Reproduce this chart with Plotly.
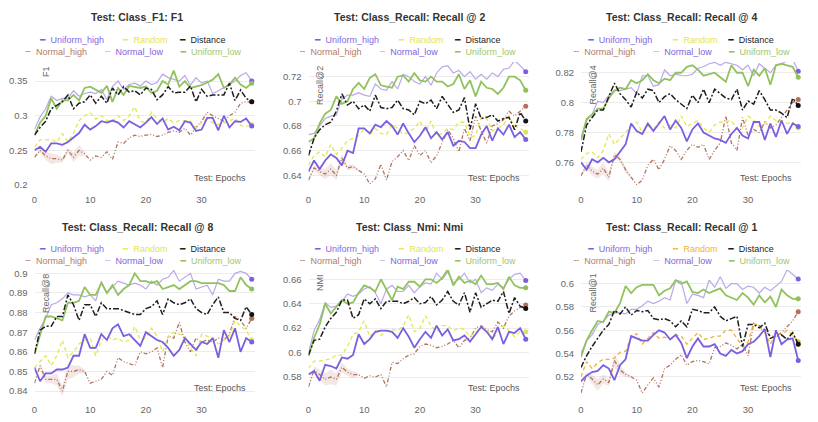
import plotly.graph_objects as go

epochs = list(range(40))

panel_titles = [
    "Test: Class_F1: F1",
    "Test: Class_Recall: Recall @ 2",
    "Test: Class_Recall: Recall @ 4",
    "Test: Class_Recall: Recall @ 8",
    "Test: Class_Nmi: Nmi",
    "Test: Class_Recall: Recall @ 1",
]
y_titles = ["F1", "Recall@2", "Recall@4", "Recall@8", "NMI", "Recall@1"]
y_ranges = [[0.2, 0.3775], [0.6321, 0.7319], [0.7448, 0.8272],
            [0.838, 0.9017], [0.5653, 0.6676], [0.5043, 0.6118]]
y_tick0 = [0.2, 0.64, 0.76, 0.84, 0.58, 0.52]
y_dtick = [0.05, 0.02, 0.02, 0.01, 0.02, 0.02]
x_ticks = [0, 10, 20, 30]
x_title = "Test: Epochs"

series_names = ["Uniform_high", "Random", "Distance", "Normal_high", "Normal_low", "Uniform_low"]

# ---- F1 ----
f1_uniform_high = [0.25, 0.255, 0.248, 0.26, 0.26, 0.258, 0.262, 0.268, 0.275, 0.287, 0.28, 0.285, 0.292, 0.29, 0.293, 0.29, 0.283, 0.292, 0.287, 0.283,
                   0.29, 0.298, 0.288, 0.296, 0.28, 0.284, 0.279, 0.292, 0.29, 0.278, 0.28, 0.297, 0.297, 0.279, 0.3, 0.283, 0.292, 0.291, 0.296, 0.285]
f1_random = [0.255, 0.265, 0.265, 0.266, 0.262, 0.274, 0.262, 0.275, 0.293, 0.3, 0.304, 0.295, 0.3, 0.293, 0.292, 0.3, 0.293, 0.3, 0.313, 0.292,
             0.29, 0.305, 0.296, 0.29, 0.296, 0.29, 0.293, 0.292, 0.292, 0.282, 0.29, 0.295, 0.29, 0.287, 0.29, 0.292, 0.297, 0.286, 0.285, 0.287]
f1_distance = [0.272, 0.283, 0.292, 0.31, 0.315, 0.32, 0.33, 0.31, 0.318, 0.32, 0.33, 0.318, 0.328, 0.318, 0.34, 0.33, 0.342, 0.334, 0.336, 0.33,
               0.34, 0.338, 0.323, 0.33, 0.342, 0.333, 0.334, 0.334, 0.343, 0.32, 0.338, 0.328, 0.33, 0.33, 0.33, 0.347, 0.322, 0.337, 0.325, 0.32]
f1_normal_high = [0.24, 0.25, 0.242, 0.238, 0.238, 0.236, 0.25, 0.24, 0.25, 0.245, 0.236, 0.242, 0.24, 0.248, 0.237, 0.262, 0.26, 0.268, 0.272, 0.27,
                  0.272, 0.273, 0.27, 0.272, 0.276, 0.278, 0.276, 0.282, 0.272, 0.283, 0.292, 0.305, 0.3, 0.296, 0.292, 0.3, 0.305, 0.318, 0.32, 0.32]
f1_normal_low = [0.28, 0.298, 0.31, 0.328, 0.322, 0.325, 0.325, 0.336, 0.328, 0.332, 0.334, 0.332, 0.338, 0.323, 0.342, 0.35, 0.338, 0.345, 0.347, 0.343,
                 0.35, 0.345, 0.348, 0.36, 0.355, 0.352, 0.35, 0.358, 0.344, 0.355, 0.347, 0.35, 0.332, 0.336, 0.34, 0.345, 0.35, 0.358, 0.362, 0.35]
f1_uniform_low = [0.272, 0.29, 0.3, 0.325, 0.31, 0.322, 0.322, 0.33, 0.322, 0.34, 0.342, 0.338, 0.333, 0.343, 0.32, 0.34, 0.33, 0.343, 0.342, 0.34,
                  0.342, 0.333, 0.336, 0.35, 0.345, 0.365, 0.342, 0.35, 0.34, 0.342, 0.344, 0.348, 0.352, 0.36, 0.34, 0.345, 0.355, 0.345, 0.34, 0.347]
f1_nh_spread = [0.0, 0.003, 0.006, 0.008, 0.006, 0.004, 0.003, 0.007, 0.008, 0.003]

# ---- Recall@2 ----
r2_uniform_high = [0.643, 0.652, 0.645, 0.652, 0.657, 0.654, 0.648, 0.66, 0.658, 0.678, 0.678, 0.674, 0.681, 0.679, 0.684, 0.68, 0.673, 0.682, 0.674, 0.667,
                   0.672, 0.679, 0.67, 0.675, 0.669, 0.675, 0.664, 0.668, 0.667, 0.662, 0.662, 0.673, 0.68, 0.668, 0.678, 0.673, 0.681, 0.671, 0.675, 0.669]
r2_random = [0.648, 0.656, 0.659, 0.655, 0.665, 0.657, 0.662, 0.668, 0.67, 0.672, 0.678, 0.673, 0.678, 0.674, 0.673, 0.681, 0.678, 0.673, 0.675, 0.678,
             0.684, 0.675, 0.684, 0.672, 0.674, 0.678, 0.677, 0.683, 0.683, 0.671, 0.672, 0.687, 0.686, 0.676, 0.678, 0.681, 0.688, 0.68, 0.678, 0.675]
r2_distance = [0.656, 0.67, 0.677, 0.681, 0.683, 0.692, 0.706, 0.697, 0.7, 0.694, 0.697, 0.692, 0.705, 0.695, 0.694, 0.695, 0.701, 0.694, 0.693, 0.689,
               0.7, 0.698, 0.701, 0.694, 0.704, 0.698, 0.691, 0.693, 0.703, 0.677, 0.698, 0.686, 0.687, 0.689, 0.684, 0.686, 0.687, 0.677, 0.691, 0.684]
r2_normal_high = [0.636, 0.646, 0.643, 0.641, 0.645, 0.64, 0.654, 0.646, 0.647, 0.644, 0.641, 0.633, 0.637, 0.649, 0.636, 0.651, 0.655, 0.66, 0.652, 0.664,
                  0.656, 0.66, 0.65, 0.656, 0.666, 0.677, 0.67, 0.659, 0.678, 0.668, 0.688, 0.676, 0.666, 0.68, 0.682, 0.685, 0.692, 0.688, 0.692, 0.696]
r2_normal_low = [0.673, 0.674, 0.68, 0.686, 0.688, 0.689, 0.702, 0.705, 0.705, 0.707, 0.705, 0.704, 0.714, 0.71, 0.709, 0.716, 0.71, 0.722, 0.72, 0.716,
                 0.714, 0.72, 0.713, 0.723, 0.728, 0.729, 0.723, 0.725, 0.72, 0.724, 0.718, 0.722, 0.718, 0.723, 0.72, 0.726, 0.727, 0.733, 0.729, 0.724]
r2_uniform_low = [0.667, 0.67, 0.682, 0.69, 0.693, 0.704, 0.698, 0.7, 0.71, 0.715, 0.71, 0.719, 0.722, 0.713, 0.712, 0.711, 0.72, 0.721, 0.716, 0.723,
                  0.717, 0.716, 0.72, 0.716, 0.716, 0.712, 0.714, 0.722, 0.71, 0.717, 0.704, 0.716, 0.711, 0.71, 0.706, 0.711, 0.72, 0.72, 0.717, 0.709]
r2_nh_spread = [0.0, 0.002, 0.003, 0.004, 0.005, 0.004, 0.003, 0.002, 0.002, 0.001]

# ---- Recall@4 ----
r4_uniform_high = [0.76, 0.755, 0.762, 0.76, 0.763, 0.76, 0.762, 0.767, 0.772, 0.786, 0.781, 0.779, 0.786, 0.781, 0.786, 0.791, 0.782, 0.788, 0.783, 0.774,
                   0.782, 0.786, 0.78, 0.778, 0.776, 0.775, 0.773, 0.779, 0.783, 0.778, 0.776, 0.787, 0.787, 0.775, 0.786, 0.777, 0.788, 0.779, 0.786, 0.784]
r4_random = [0.762, 0.766, 0.767, 0.763, 0.768, 0.779, 0.772, 0.776, 0.78, 0.784, 0.787, 0.78, 0.784, 0.782, 0.787, 0.783, 0.785, 0.783, 0.791, 0.784,
             0.786, 0.788, 0.783, 0.78, 0.785, 0.787, 0.787, 0.788, 0.782, 0.783, 0.791, 0.788, 0.784, 0.786, 0.791, 0.788, 0.788, 0.786, 0.787, 0.783]
r4_distance = [0.767, 0.785, 0.79, 0.795, 0.795, 0.804, 0.813, 0.806, 0.802, 0.797, 0.807, 0.803, 0.809, 0.808, 0.8, 0.804, 0.806, 0.802, 0.799, 0.796,
               0.805, 0.8, 0.809, 0.8, 0.809, 0.806, 0.803, 0.802, 0.809, 0.795, 0.801, 0.799, 0.808, 0.802, 0.795, 0.795, 0.793, 0.79, 0.803, 0.798]
r4_normal_high = [0.751, 0.758, 0.754, 0.752, 0.756, 0.75, 0.765, 0.762, 0.755, 0.75, 0.745, 0.748, 0.758, 0.762, 0.755, 0.762, 0.771, 0.768, 0.762, 0.768,
                  0.772, 0.77, 0.772, 0.762, 0.768, 0.773, 0.791, 0.773, 0.768, 0.79, 0.778, 0.782, 0.78, 0.787, 0.783, 0.785, 0.79, 0.795, 0.8, 0.802]
r4_normal_low = [0.775, 0.788, 0.792, 0.801, 0.8, 0.805, 0.808, 0.808, 0.809, 0.81, 0.806, 0.818, 0.818, 0.811, 0.812, 0.822, 0.818, 0.819, 0.818, 0.818,
                 0.819, 0.823, 0.824, 0.826, 0.827, 0.825, 0.827, 0.826, 0.825, 0.822, 0.825, 0.818, 0.826, 0.823, 0.82, 0.825, 0.826, 0.828, 0.829, 0.821]
r4_uniform_low = [0.775, 0.789, 0.792, 0.796, 0.796, 0.803, 0.808, 0.81, 0.809, 0.815, 0.813, 0.815, 0.819, 0.815, 0.813, 0.816, 0.815, 0.82, 0.82, 0.824,
                  0.825, 0.822, 0.818, 0.819, 0.82, 0.817, 0.814, 0.825, 0.82, 0.82, 0.811, 0.822, 0.818, 0.823, 0.812, 0.825, 0.826, 0.825, 0.824, 0.817]
r4_nh_spread = [0.0, 0.002, 0.003, 0.003, 0.004, 0.003, 0.002, 0.002, 0.002, 0.001]

# ---- Recall@8 ----
r8_uniform_high = [0.852, 0.845, 0.849, 0.849, 0.851, 0.851, 0.852, 0.858, 0.858, 0.869, 0.862, 0.862, 0.869, 0.866, 0.872, 0.874, 0.868, 0.869, 0.866, 0.863,
                   0.87, 0.868, 0.866, 0.865, 0.862, 0.858, 0.861, 0.867, 0.864, 0.861, 0.865, 0.864, 0.867, 0.857, 0.871, 0.865, 0.872, 0.86, 0.867, 0.865]
r8_random = [0.852, 0.855, 0.858, 0.853, 0.858, 0.866, 0.857, 0.86, 0.864, 0.866, 0.867, 0.858, 0.866, 0.868, 0.866, 0.867, 0.865, 0.866, 0.873, 0.866,
             0.867, 0.872, 0.868, 0.86, 0.868, 0.87, 0.869, 0.868, 0.862, 0.858, 0.869, 0.868, 0.867, 0.864, 0.866, 0.868, 0.876, 0.873, 0.871, 0.866]
r8_distance = [0.859, 0.871, 0.873, 0.873, 0.878, 0.878, 0.889, 0.884, 0.876, 0.884, 0.884, 0.878, 0.885, 0.882, 0.882, 0.882, 0.881, 0.88, 0.879, 0.879,
               0.882, 0.883, 0.886, 0.879, 0.887, 0.885, 0.884, 0.885, 0.887, 0.882, 0.88, 0.879, 0.884, 0.888, 0.88, 0.88, 0.877, 0.876, 0.883, 0.879]
r8_normal_high = [0.844, 0.853, 0.846, 0.846, 0.846, 0.84, 0.85, 0.85, 0.851, 0.85, 0.844, 0.845, 0.846, 0.85, 0.848, 0.857, 0.855, 0.854, 0.853, 0.86,
                  0.859, 0.86, 0.862, 0.852, 0.868, 0.867, 0.875, 0.865, 0.86, 0.867, 0.865, 0.866, 0.865, 0.867, 0.866, 0.869, 0.878, 0.876, 0.872, 0.877]
r8_normal_low = [0.866, 0.872, 0.877, 0.884, 0.885, 0.887, 0.89, 0.889, 0.889, 0.888, 0.889, 0.886, 0.896, 0.89, 0.893, 0.896, 0.895, 0.894, 0.895, 0.894,
                 0.892, 0.896, 0.894, 0.897, 0.898, 0.9015, 0.896, 0.898, 0.9, 0.892, 0.893, 0.894, 0.889, 0.897, 0.896, 0.896, 0.9, 0.901, 0.9, 0.897]
r8_uniform_low = [0.859, 0.868, 0.878, 0.878, 0.877, 0.876, 0.885, 0.885, 0.886, 0.893, 0.889, 0.889, 0.895, 0.89, 0.894, 0.889, 0.892, 0.894, 0.9, 0.896,
                  0.896, 0.895, 0.896, 0.892, 0.893, 0.894, 0.892, 0.894, 0.896, 0.896, 0.895, 0.895, 0.895, 0.895, 0.894, 0.891, 0.891, 0.898, 0.894, 0.892]
r8_nh_spread = [0.0, 0.001, 0.002, 0.002, 0.003, 0.003, 0.004, 0.003, 0.002, 0.001]

# ---- NMI ----
nmi_uniform_high = [0.582, 0.585, 0.577, 0.59, 0.589, 0.587, 0.596, 0.595, 0.598, 0.615, 0.607, 0.611, 0.617, 0.618, 0.618, 0.617, 0.612, 0.62, 0.613, 0.604,
                    0.611, 0.617, 0.612, 0.622, 0.614, 0.619, 0.61, 0.611, 0.614, 0.609, 0.615, 0.621, 0.617, 0.611, 0.621, 0.607, 0.617, 0.616, 0.62, 0.611]
nmi_random = [0.587, 0.593, 0.593, 0.594, 0.595, 0.598, 0.598, 0.605, 0.615, 0.617, 0.626, 0.613, 0.618, 0.614, 0.618, 0.619, 0.618, 0.622, 0.631, 0.617,
              0.62, 0.63, 0.622, 0.617, 0.622, 0.622, 0.618, 0.62, 0.619, 0.613, 0.617, 0.62, 0.62, 0.61, 0.617, 0.622, 0.618, 0.613, 0.617, 0.617]
nmi_distance = [0.598, 0.61, 0.611, 0.621, 0.628, 0.633, 0.643, 0.643, 0.628, 0.631, 0.644, 0.64, 0.644, 0.636, 0.642, 0.642, 0.642, 0.64, 0.642, 0.645,
                0.64, 0.641, 0.646, 0.639, 0.643, 0.65, 0.642, 0.639, 0.649, 0.633, 0.649, 0.637, 0.64, 0.643, 0.642, 0.65, 0.632, 0.645, 0.638, 0.636]
nmi_normal_high = [0.572, 0.586, 0.582, 0.578, 0.58, 0.578, 0.588, 0.584, 0.582, 0.582, 0.579, 0.581, 0.58, 0.582, 0.572, 0.592, 0.591, 0.595, 0.598, 0.599,
                   0.605, 0.607, 0.606, 0.604, 0.605, 0.607, 0.61, 0.604, 0.61, 0.612, 0.62, 0.622, 0.619, 0.617, 0.625, 0.62, 0.63, 0.634, 0.637, 0.639]
nmi_normal_low = [0.6, 0.618, 0.627, 0.641, 0.637, 0.638, 0.642, 0.648, 0.646, 0.648, 0.652, 0.654, 0.649, 0.64, 0.652, 0.655, 0.65, 0.65, 0.655, 0.649,
                  0.654, 0.657, 0.656, 0.665, 0.66, 0.666, 0.657, 0.66, 0.665, 0.657, 0.66, 0.649, 0.653, 0.651, 0.656, 0.653, 0.66, 0.664, 0.665, 0.659]
nmi_uniform_low = [0.597, 0.612, 0.623, 0.64, 0.632, 0.638, 0.643, 0.64, 0.641, 0.649, 0.655, 0.653, 0.65, 0.66, 0.651, 0.643, 0.654, 0.652, 0.658, 0.658,
                   0.654, 0.66, 0.66, 0.657, 0.661, 0.668, 0.655, 0.662, 0.657, 0.659, 0.656, 0.663, 0.656, 0.656, 0.657, 0.652, 0.662, 0.655, 0.653, 0.653]
nmi_nh_spread = [0.0, 0.003, 0.004, 0.005, 0.006, 0.005, 0.004, 0.003, 0.003, 0.001]

# ---- Recall@1 ----
r1_uniform_high = [0.516, 0.521, 0.524, 0.525, 0.53, 0.527, 0.517, 0.53, 0.535, 0.555, 0.553, 0.551, 0.551, 0.556, 0.56, 0.558, 0.552, 0.556, 0.549, 0.536,
                   0.546, 0.553, 0.546, 0.546, 0.548, 0.54, 0.538, 0.543, 0.54, 0.542, 0.548, 0.55, 0.555, 0.561, 0.537, 0.56, 0.548, 0.552, 0.553, 0.534]
r1_random = [0.52, 0.533, 0.527, 0.532, 0.535, 0.535, 0.536, 0.541, 0.542, 0.554, 0.557, 0.548, 0.553, 0.558, 0.553, 0.554, 0.552, 0.556, 0.555, 0.548,
             0.553, 0.558, 0.552, 0.553, 0.555, 0.555, 0.56, 0.56, 0.553, 0.546, 0.55, 0.566, 0.563, 0.558, 0.548, 0.557, 0.556, 0.56, 0.556, 0.55]
r1_distance = [0.528, 0.538, 0.546, 0.553, 0.56, 0.565, 0.577, 0.574, 0.58, 0.573, 0.577, 0.576, 0.577, 0.57, 0.569, 0.57, 0.568, 0.563, 0.568, 0.563,
               0.578, 0.577, 0.575, 0.575, 0.58, 0.572, 0.568, 0.57, 0.572, 0.546, 0.565, 0.565, 0.562, 0.566, 0.553, 0.555, 0.556, 0.552, 0.558, 0.548]
r1_normal_high = [0.506, 0.522, 0.518, 0.513, 0.518, 0.515, 0.534, 0.526, 0.522, 0.52, 0.517, 0.506, 0.513, 0.519, 0.511, 0.527, 0.53, 0.535, 0.539, 0.53,
                  0.533, 0.534, 0.533, 0.531, 0.545, 0.546, 0.549, 0.547, 0.544, 0.548, 0.538, 0.566, 0.564, 0.56, 0.555, 0.555, 0.558, 0.563, 0.568, 0.576]
r1_normal_low = [0.54, 0.551, 0.556, 0.565, 0.568, 0.573, 0.575, 0.575, 0.574, 0.578, 0.578, 0.581, 0.585, 0.583, 0.585, 0.588, 0.586, 0.603, 0.602, 0.583,
                 0.591, 0.59, 0.588, 0.603, 0.597, 0.606, 0.596, 0.6, 0.6, 0.595, 0.598, 0.597, 0.592, 0.597, 0.594, 0.598, 0.602, 0.612, 0.608, 0.604]
r1_uniform_low = [0.537, 0.551, 0.56, 0.568, 0.567, 0.576, 0.575, 0.583, 0.598, 0.592, 0.597, 0.599, 0.599, 0.599, 0.59, 0.594, 0.596, 0.603, 0.6, 0.602,
                  0.593, 0.592, 0.595, 0.592, 0.594, 0.596, 0.59, 0.588, 0.586, 0.592, 0.588, 0.582, 0.59, 0.584, 0.589, 0.58, 0.595, 0.59, 0.587, 0.587]
r1_nh_spread = [0.0, 0.002, 0.004, 0.005, 0.004, 0.003, 0.006, 0.004, 0.002, 0.001]

panels = [
    [f1_uniform_high, f1_random, f1_distance, f1_normal_high, f1_normal_low, f1_uniform_low, f1_nh_spread],
    [r2_uniform_high, r2_random, r2_distance, r2_normal_high, r2_normal_low, r2_uniform_low, r2_nh_spread],
    [r4_uniform_high, r4_random, r4_distance, r4_normal_high, r4_normal_low, r4_uniform_low, r4_nh_spread],
    [r8_uniform_high, r8_random, r8_distance, r8_normal_high, r8_normal_low, r8_uniform_low, r8_nh_spread],
    [nmi_uniform_high, nmi_random, nmi_distance, nmi_normal_high, nmi_normal_low, nmi_uniform_low, nmi_nh_spread],
    [r1_uniform_high, r1_random, r1_distance, r1_normal_high, r1_normal_low, r1_uniform_low, r1_nh_spread],
]

# ---- styles ----
line_colors = {"Uniform_high": "#7a5fe0", "Random": "#e4e74e", "Distance": "#1e1e1e",
               "Normal_high": "#b2735f", "Normal_low": "#b9a9e8", "Uniform_low": "#92c25e"}
text_colors = {"Uniform_high": "#8468e6", "Random": "#e2e553", "Distance": "#222222",
               "Normal_high": "#b57a66", "Normal_low": "#7f63dd", "Uniform_low": "#9cc86c"}
end_colors = {"Uniform_high": "#7a5fe0", "Random": "#dfe25a", "Distance": "#111111",
              "Normal_high": "#b5705a", "Normal_low": "#7c5fdc", "Uniform_low": "#8fc05c"}
legend_glyph = {"Uniform_high": "\u2501", "Random": "\u254d", "Distance": "\u2501",
                "Normal_high": "\u254c", "Normal_low": "\u254c", "Uniform_low": "\u2501"}
dashes = {"Uniform_high": "solid", "Random": "4px,3px", "Distance": "6px,2px,2px,2px",
          "Normal_high": "4px,2px,1px,2px,1px,2px", "Normal_low": "solid", "Uniform_low": "solid"}
widths = {"Uniform_high": 1.8, "Random": 1.3, "Distance": 1.5, "Normal_high": 1.3,
          "Normal_low": 1.2, "Uniform_low": 1.8}
orange = "#f0b233"

W, H = 818, 422
col_left = [34.5, 308.5, 581.0]
col_off = [0, 272, 544]
plot_w = 220
row_top = [62, 270]
row_bot = [185, 395]
title_y = [17, 227]
leg_y = [[39.5, 51.5], [248.5, 260]]
# start of the symbol of each legend entry, relative to the panel's left edge
leg_sym = [
    [[40, 123, 180], [25.5, 105, 180.5]],
    [[43, 127, 183], [28, 107.7, 183]],
    [[44.3, 129, 184.3], [29.7, 109.7, 185]],
]
leg_rows = [["Uniform_high", "Random", "Distance"], ["Normal_high", "Normal_low", "Uniform_low"]]

FONT = "Liberation Sans, Arial, sans-serif"
GLYPH_FONT = "DejaVu Sans"

fig = go.Figure()
draw_order = ["Normal_low", "Uniform_low", "Normal_high", "Random", "Distance", "Uniform_high"]
annotations = []
layout_axes = {}
legends = {}
leg_count = 0

for p in range(6):
    r, c = divmod(p, 3)
    ax = "" if p == 0 else str(p + 1)
    xa, ya = "x" + ax, "y" + ax
    vals = dict(zip(series_names, panels[p][:6]))
    spread = panels[p][6]

    cols = dict(line_colors)
    tcols = dict(text_colors)
    ecols = dict(end_colors)
    if p == 5:
        cols["Random"] = orange
        tcols["Random"] = orange
        ecols["Random"] = orange

    # std band around Normal_high (first epochs)
    nh = vals["Normal_high"]
    n = len(spread)
    fig.add_trace(go.Scatter(x=epochs[:n], y=[nh[i] + spread[i] for i in range(n)], mode="lines",
                             line=dict(width=0), showlegend=False, hoverinfo="skip", xaxis=xa, yaxis=ya))
    fig.add_trace(go.Scatter(x=epochs[:n], y=[nh[i] - spread[i] for i in range(n)], mode="lines",
                             line=dict(width=0), fill="tonexty", fillcolor="rgba(200,150,135,0.22)",
                             showlegend=False, hoverinfo="skip", xaxis=xa, yaxis=ya))

    for name in draw_order:
        fig.add_trace(go.Scatter(x=epochs, y=vals[name], mode="lines", name=name,
                                 line=dict(color=cols[name], width=widths[name], dash=dashes[name]),
                                 showlegend=False, xaxis=xa, yaxis=ya))
        fig.add_trace(go.Scatter(x=epochs[-1:], y=vals[name][-1:], mode="markers",
                                 marker=dict(color=ecols[name], size=5), showlegend=False,
                                 hoverinfo="skip", xaxis=xa, yaxis=ya, cliponaxis=False))

    # legend entries: one small legend per entry, two rows of three;
    # the short line sample is drawn as a glyph in the entry's label
    for ri in range(2):
        for k, name in enumerate(leg_rows[ri]):
            leg_count += 1
            lg = "legend" if leg_count == 1 else "legend%d" % leg_count
            label = ("<span style='color:%s;font-family:%s'>%s</span>\u00a0\u00a0"
                     "<span style='color:%s'>%s</span>") % (cols[name], GLYPH_FONT,
                                                            legend_glyph[name], tcols[name], name)
            fig.add_trace(go.Scatter(x=[None], y=[None], mode="markers", name=label,
                                     marker=dict(size=1, color="rgba(0,0,0,0)", opacity=0),
                                     legend=lg, showlegend=True, xaxis=xa, yaxis=ya))
            legends[lg] = dict(orientation="h", traceorder="normal",
                               x=(col_off[c] + leg_sym[c][ri][k] - 40) / W, xanchor="left",
                               y=1 - leg_y[r][ri] / H, yanchor="middle",
                               bgcolor="rgba(0,0,0,0)", borderwidth=0, itemwidth=30,
                               font=dict(size=9, family=FONT, color="#444"))

    x0 = col_left[c] / W
    x1 = (col_left[c] + plot_w) / W
    y0 = 1 - row_bot[r] / H
    y1 = 1 - row_top[r] / H
    layout_axes["xaxis" + ax] = dict(domain=[x0, x1], range=[0, 39.5], anchor=ya,
                                     tickvals=x_ticks, showgrid=False, zeroline=False,
                                     showline=False, ticks="", ticklabelstandoff=7,
                                     tickfont=dict(size=9.5, color="#666666", family=FONT))
    layout_axes["yaxis" + ax] = dict(domain=[y0, y1], range=y_ranges[p], anchor=xa,
                                     tick0=y_tick0[p], dtick=y_dtick[p], showgrid=True,
                                     gridcolor="#ececec", gridwidth=1, zeroline=False,
                                     showline=False, ticks="", ticklabelstandoff=6,
                                     tickfont=dict(size=9.5, color="#666666", family=FONT))

    # panel title
    annotations.append(dict(text="<b>%s</b>" % panel_titles[p], xref="paper", yref="paper",
                            x=(col_off[c] + 137) / W, y=1 - title_y[r] / H, xanchor="center",
                            yanchor="middle", showarrow=False,
                            font=dict(size=10.5, color="#333333", family=FONT)))
    # y title inside plot, rotated
    annotations.append(dict(text=y_titles[p], xref="paper", yref="paper",
                            x=(col_left[c] + 11) / W, y=1 - (row_top[r] + 2) / H, xanchor="center",
                            yanchor="top", textangle=-90, showarrow=False,
                            font=dict(size=9, color="#666666", family=FONT)))
    # x title inside plot bottom right
    annotations.append(dict(text=x_title, xref="paper", yref="paper",
                            x=(col_left[c] + plot_w - 7) / W, y=1 - (row_bot[r] - 7) / H,
                            xanchor="right", yanchor="middle", showarrow=False,
                            font=dict(size=9, color="#555555", family=FONT)))

fig.update_layout(
    width=W, height=H,
    margin=dict(l=0, r=0, t=0, b=0, autoexpand=False),
    paper_bgcolor="white", plot_bgcolor="white",
    font=dict(family=FONT),
    annotations=annotations,
    showlegend=True,
    **layout_axes,
    **legends,
)

fig.write_html("out.html", config={"displayModeBar": False},
               post_script="document.body.style.margin='0px';")
